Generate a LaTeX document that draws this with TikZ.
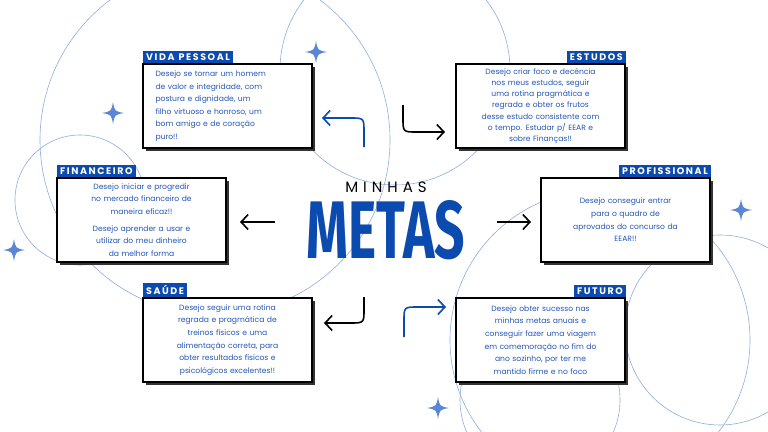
\documentclass[tikz,border=0pt]{standalone}
\usepackage{fontspec}
\usetikzlibrary{arrows.meta}
\setmainfont{Poppins}
\newfontfamily\headfont{Fira Sans}
\definecolor{mblue}{HTML}{0B4AAE}
\definecolor{tblue}{HTML}{2356B8}
\definecolor{cblue}{HTML}{8FAEE0}
\definecolor{sblue}{HTML}{5B86D6}
\begin{document}
\begin{tikzpicture}[x=1pt,y=-1pt,
  goalbox/.style={draw=black,line width=1.4pt,fill=white},
  tab/.style={fill=mblue,text=white,font=\fontsize{9.5}{10}\selectfont\bfseries,inner xsep=3pt,inner ysep=2.5pt,anchor=south},
  goaltext/.style={text=tblue,font=\fontsize{7.6}{12.6}\selectfont,align=center,text width=162pt},
  arr/.style={line width=1.6pt,-{Straight Barb[length=7pt,width=15pt]}},
  deco/.style={draw=cblue,line width=0.6pt},
  star/.style={fill=sblue}]
\useasboundingbox (0,0) rectangle (768,431);
\fill[white] (0,0) rectangle (768,431);
% decorative circles
\begin{scope}
\clip (0,0) rectangle (768,431);
\draw[deco] (215,140) circle (175);
\draw[deco] (80,200) circle (65);
\draw[deco] (395,70) circle (115);
\draw[deco] (600,340) circle (150);
\draw[deco] (720,330) circle (95);
\draw[deco] (540,400) circle (80);
\end{scope}
% stars
\newcommand{\sparkle}[3]{\fill[star] (#1,#2-#3) .. controls (#1+#3*0.15,#2-#3*0.15) .. (#1+#3,#2) .. controls (#1+#3*0.15,#2+#3*0.15) .. (#1,#2+#3) .. controls (#1-#3*0.15,#2+#3*0.15) .. (#1-#3,#2) .. controls (#1-#3*0.15,#2-#3*0.15) .. cycle;}
\sparkle{316}{52}{11}
\sparkle{113}{113}{11}
\sparkle{14}{250}{11}
\sparkle{741}{210}{11}
\sparkle{438}{408}{11}
% boxes
\foreach \n/\x/\y in {vp/143/64, es/456/64, fi/57/178, pr/541/178, sa/143/298, fu/456/298}{
  \fill[black!80] (\x+3,\y+3) rectangle (\x+172,\y+87);
  \draw[goalbox] (\x,\y) rectangle (\x+169,\y+84);
  \coordinate (\n) at (\x+84.5,\y+42);
}
\node[tab,anchor=south west] (tvp) at (143,63.5) {V\,I\,D\,A\ \ P\,E\,S\,S\,O\,A\,L};
\node[tab,anchor=south east] (tes) at (626,63.5) {E\,S\,T\,U\,D\,O\,S};
\node[tab,anchor=south west] (tfi) at (57,177.5) {F\,I\,N\,A\,N\,C\,E\,I\,R\,O};
\node[tab,anchor=south east] (tpr) at (711,177.5) {P\,R\,O\,F\,I\,S\,S\,I\,O\,N\,A\,L};
\node[tab,anchor=south west] (tsa) at (143,297.5) {S\,A\,Ú\,D\,E};
\node[tab,anchor=south east] (tfu) at (626,297.5) {F\,U\,T\,U\,R\,O};
\node[goaltext,align=left,text width=150pt] (xvp) at ([xshift=3pt]vp) {Desejo se tornar um homem\\de valor e integridade, com\\postura e dignidade, um\\filho virtuoso e honroso, um\\bom amigo e de coração\\puro!!};
\node[goaltext,font=\fontsize{7.6}{11.2}\selectfont] (xes) at (es) {Desejo criar foco e decência\\nos meus estudos, seguir\\uma rotina pragmática e\\regrada e obter os frutos\\desse estudo consistente com\\o tempo. Estudar p/ EEAR e\\sobre Finanças!!};
\node[goaltext] (xfi) at (fi) {Desejo iniciar e progredir\\no mercado financeiro de\\maneira eficaz!!\\[4pt]Desejo aprender a usar e\\utilizar do meu dinheiro\\da melhor forma};
\node[goaltext] (xpr) at (pr) {Desejo conseguir entrar\\para o quadro de\\aprovados do concurso da\\EEAR!!};
\node[goaltext] (xsa) at (sa) {Desejo seguir uma rotina\\regrada e pragmática de\\treinos físicos e uma\\alimentação correta, para\\obter resultados físicos e\\psicológicos excelentes!!};
\node[goaltext] (xfu) at (fu) {Desejo obter sucesso nas\\minhas metas anuais e\\conseguir fazer uma viagem\\em comemoração no fim do\\ano sozinho, por ter me\\mantido firme e no foco};
% title
\node (minhas) at (386,187) {\fontsize{15}{15}\selectfont M\hspace{5pt}I\hspace{5pt}N\hspace{5pt}H\hspace{5pt}A\hspace{5pt}S};
\node[text=mblue] (metas) at (386,230) {\resizebox{158pt}{58pt}{\headfont\bfseries METAS}};
% arrows
\coordinate (a1s) at (364,147); \coordinate (a1e) at (322,118);
\draw[arr,mblue] (a1s) -- (364,132) .. controls (364,118) .. (350,118) -- (a1e);
\coordinate (a2s) at (403,105); \coordinate (a2e) at (445,132);
\draw[arr,black] (a2s) -- (403,118) .. controls (403,132) .. (417,132) -- (a2e);
\coordinate (a3s) at (364,297); \coordinate (a3e) at (324,323);
\draw[arr,black] (a3s) -- (364,309) .. controls (364,323) .. (350,323) -- (a3e);
\coordinate (a4s) at (404,337); \coordinate (a4e) at (446,307);
\draw[arr,mblue] (a4s) -- (404,321) .. controls (404,307) .. (418,307) -- (a4e);
\coordinate (l1) at (275,222); \coordinate (l2) at (240,222);
\coordinate (r1) at (497,222); \coordinate (r2) at (531,222);
\draw[arr,black] (l1) -- (l2);
\draw[arr,black] (r1) -- (r2);
\end{tikzpicture}
\end{document}
